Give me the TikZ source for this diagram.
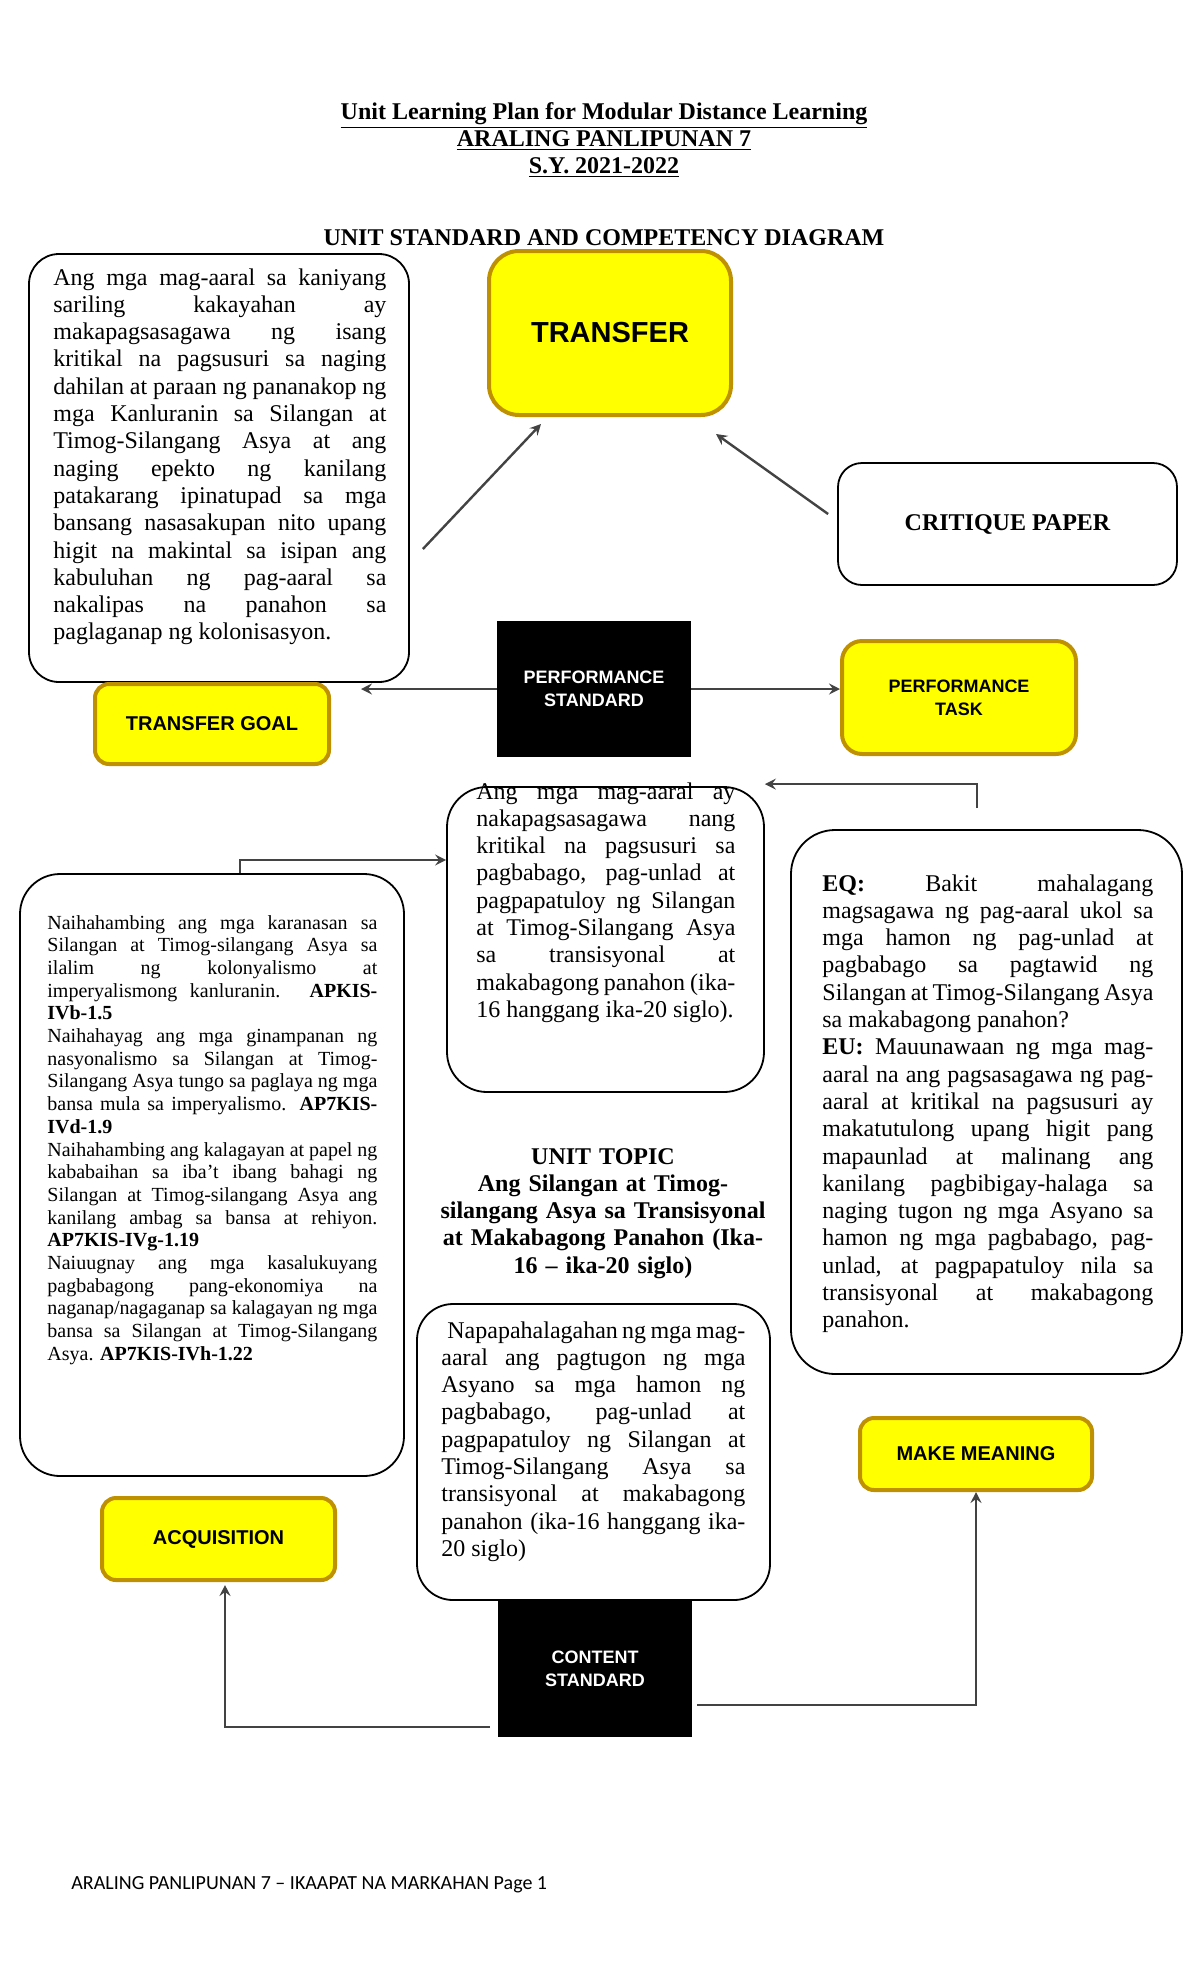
\documentclass[tikz,border=0pt]{standalone}
\usepackage{fontspec}
\setmainfont{Liberation Serif}
\newfontfamily\boxfont{Liberation Sans}
\newfontfamily\footfont{Carlito}
\usetikzlibrary{arrows.meta,calc}
\definecolor{boxyellow}{HTML}{FFFF00}
\definecolor{boxgold}{HTML}{BF9000}
\definecolor{linkgray}{HTML}{434343}
\newcommand{\jl}[1]{\makebox[\linewidth][s]{#1}\\}
\tikzset{>={Stealth[length=5.5pt,width=5.5pt,inset=2pt]}}
\tikzset{
  whitebox/.style={draw=black,line width=0.9pt,fill=white,rounded corners=15pt,inner sep=0pt},
  goldbox/.style={draw=boxgold,line width=2pt,fill=boxyellow,rounded corners=7pt,inner sep=0pt,align=center,
    font=\boxfont\bfseries\fontsize{10}{12}\selectfont},
  blackbox/.style={fill=black,text=white,inner sep=0pt,align=center,font=\boxfont\bfseries\fontsize{9}{11.5}\selectfont},
  bodytext/.style={inner sep=0pt,anchor=base west,align=justify,font=\fontsize{12}{13.65}\selectfont},
  headtext/.style={inner sep=0pt,anchor=base,font=\bfseries\fontsize{12}{13.65}\selectfont},
  link/.style={draw=linkgray,line width=1.2pt,->},
}

\begin{document}
\begin{tikzpicture}[x=0.5pt,y=-0.5pt]
\useasboundingbox (0,0) rectangle (1200,1976);
\node[headtext] (head1) at (604,119) {\underline{Unit Learning Plan for Modular Distance Learning}};
\node[headtext] (head2) at (604,146) {\underline{ARALING PANLIPUNAN 7}};
\node[headtext] (head3) at (604,173) {\underline{S.Y. 2021-2022}};
\node[headtext] (diagtitle) at (604,245) {UNIT STANDARD AND COMPETENCY DIAGRAM};

\node[whitebox,minimum width=190pt,minimum height=214pt] (goaltext) at (219,468) {};
\node[goldbox,rounded corners=15pt,minimum width=121pt,minimum height=82pt,
  font=\boxfont\bfseries\fontsize{14.5}{17}\selectfont] (transfer) at (610,333) {TRANSFER};
\node[whitebox,rounded corners=12pt,minimum width=169.5pt,minimum height=61pt,
  font=\bfseries\fontsize{12}{14}\selectfont] (critique) at (1007.5,524) {CRITIQUE PAPER};
\node[blackbox,minimum width=97pt,minimum height=68pt] (pstd) at (594,689) {PERFORMANCE\\STANDARD};
\node[goldbox,minimum width=117pt,minimum height=40pt] (goal) at (212,724) {TRANSFER GOAL};
\node[goldbox,rounded corners=10pt,minimum width=117pt,minimum height=56.5pt,
  font=\boxfont\bfseries\fontsize{9}{11.5}\selectfont] (ptask) at (959,697.5) {PERFORMANCE\\TASK};
\node[whitebox,rounded corners=20pt,minimum width=158.5pt,minimum height=152.5pt] (pstext) at (605.5,939.5) {};
\node[whitebox,rounded corners=20pt,minimum width=192pt,minimum height=301pt] (acqtext) at (212,1175) {};
\node[whitebox,rounded corners=22pt,minimum width=195.5pt,minimum height=272pt] (mmtext) at (986.5,1102) {};
\node[whitebox,rounded corners=18pt,minimum width=176.5pt,minimum height=148pt] (cstext) at (593.5,1452) {};
\node[blackbox,minimum width=97pt,minimum height=68pt] (cstd) at (595,1669) {CONTENT\\STANDARD};
\node[goldbox,minimum width=116pt,minimum height=36pt] (meaning) at (976,1454) {MAKE MEANING};
\node[goldbox,minimum width=116.5pt,minimum height=41pt] (acq) at (218.5,1539) {ACQUISITION};

\node[bodytext,text width=166.5pt] (goalpara) at (53,285) {%
\jl{Ang mga mag-aaral sa kaniyang}
\jl{sariling kakayahan ay}
\jl{makapagsasagawa ng isang}
\jl{kritikal na pagsusuri sa naging}
\jl{dahilan at paraan ng pananakop ng}
\jl{mga Kanluranin sa Silangan at}
\jl{Timog-Silangang Asya at ang}
\jl{naging epekto ng kanilang}
\jl{patakarang ipinatupad sa mga}
\jl{bansang nasasakupan nito upang}
\jl{higit na makintal sa isipan ang}
\jl{kabuluhan ng pag-aaral sa}
\jl{nakalipas na panahon sa}
paglaganap ng kolonisasyon.};

\node[bodytext,text width=129.5pt] (pspara) at (476,799) {%
\jl{Ang mga mag-aaral ay}
\jl{nakapagsasagawa nang}
\jl{kritikal na pagsusuri sa}
\jl{pagbabago, pag-unlad at}
\jl{pagpapatuloy ng Silangan}
\jl{at Timog-Silangang Asya}
\jl{sa transisyonal at}
\jl{makabagong panahon (ika-}
16 hanggang ika-20 siglo).};

\node[bodytext,text width=165pt,font=\fontsize{10}{11.35}\selectfont] (acqpara) at (47,929) {%
\jl{Naihahambing ang mga karanasan sa}
\jl{Silangan at Timog-silangang Asya sa}
\jl{ilalim ng kolonyalismo at}
\jl{imperyalismong kanluranin. \textbf{APKIS-}}
\textbf{IVb-1.5}\\
\jl{Naihahayag ang mga ginampanan ng}
\jl{nasyonalismo sa Silangan at Timog-}
\jl{Silangang Asya tungo sa paglaya ng mga}
\jl{bansa mula sa imperyalismo. \textbf{AP7KIS-}}
\textbf{IVd-1.9}\\
\jl{Naihahambing ang kalagayan at papel ng}
\jl{kababaihan sa iba’t ibang bahagi ng}
\jl{Silangan at Timog-silangang Asya ang}
\jl{kanilang ambag sa bansa at rehiyon.}
\textbf{AP7KIS-IVg-1.19}\\
\jl{Naiuugnay ang mga kasalukuyang}
\jl{pagbabagong pang-ekonomiya na}
\jl{naganap/nagaganap sa kalagayan ng mga}
\jl{bansa sa Silangan at Timog-Silangang}
Asya. \textbf{AP7KIS-IVh-1.22}};

\node[bodytext,text width=165.5pt] (mmpara) at (822,891) {%
\jl{\textbf{EQ:} Bakit mahalagang}
\jl{magsagawa ng pag-aaral ukol sa}
\jl{mga hamon ng pag-unlad at}
\jl{pagbabago sa pagtawid ng}
\jl{Silangan at Timog-Silangang Asya}
sa makabagong panahon?\\
\jl{\textbf{EU:} Mauunawaan ng mga mag-}
\jl{aaral na ang pagsasagawa ng pag-}
\jl{aaral at kritikal na pagsusuri ay}
\jl{makatutulong upang higit pang}
\jl{mapaunlad at malinang ang}
\jl{kanilang pagbibigay-halaga sa}
\jl{naging tugon ng mga Asyano sa}
\jl{hamon ng mga pagbabago, pag-}
\jl{unlad, at pagpapatuloy nila sa}
\jl{transisyonal at makabagong}
panahon.};

\node[headtext,align=center,text width=180pt] (topic) at (603,1164) {UNIT TOPIC\\
Ang Silangan at Timog-\\
silangang Asya sa Transisyonal\\
at Makabagong Panahon (Ika-\\
16 – ika-20 siglo)};

\node[bodytext,text width=152pt] (cspara) at (441,1338) {%
\jl{\hspace{3pt}Napapahalagahan ng mga mag-}
\jl{aaral ang pagtugon ng mga}
\jl{Asyano sa mga hamon ng}
\jl{pagbabago, pag-unlad at}
\jl{pagpapatuloy ng Silangan at}
\jl{Timog-Silangang Asya sa}
\jl{transisyonal at makabagong}
\jl{panahon (ika-16 hanggang ika-}
20 siglo)};

\node[inner sep=0pt,anchor=base west,font=\footfont\fontsize{10}{12}\selectfont] (footer) at (71,1889)
  {ARALING PANLIPUNAN 7 – IKAAPAT NA MARKAHAN Page 1};

\draw[link] ([xshift=6.5pt,yshift=-40.5pt]goaltext.east) -- ([xshift=27pt,yshift=-3.5pt]transfer.south west);
\draw[link] ([xshift=-4.5pt,yshift=5pt]critique.west) -- ([xshift=-8.5pt,yshift=-8.5pt]transfer.south east);
\draw[link] (pstd.west) -- ($(pstd.west -| goal.east)+(30,0)$);
\draw[link] (pstd.east) -- (pstd.east -| ptask.west);
\draw[link] ([xshift=-4.75pt,yshift=10.5pt]mmtext.north) |- ([yshift=1pt]pstext.north east);
\draw[link] ([xshift=14pt]acqtext.north) |- ([yshift=39.75pt]pstext.west);
\draw[link] ([xshift=-4pt,yshift=-29pt]cstd.west) -| ([xshift=3.25pt,yshift=-1.5pt]acq.south);
\draw[link] ([xshift=2.5pt,yshift=-18pt]cstd.east) -| (meaning.south);
\end{tikzpicture}
\end{document}
